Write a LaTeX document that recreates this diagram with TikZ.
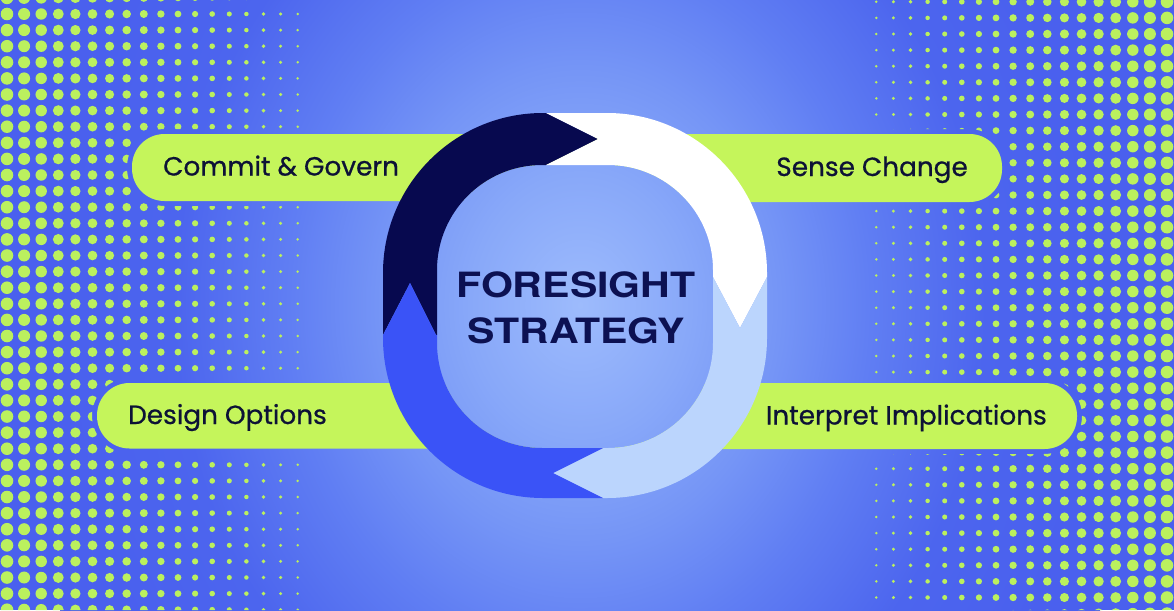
\documentclass[tikz,border=0pt]{standalone}
\usepackage{fontspec}
\setmainfont{Poppins}
\newfontfamily\pillfont[FakeBold=0.7]{Poppins}
\newfontfamily\titlefont[FakeStretch=1.18]{TeX Gyre Heros}
\usetikzlibrary{fit}

\definecolor{lime}{HTML}{C5F55B}
\definecolor{dotlime}{HTML}{BBF05E}
\definecolor{ringnavy}{HTML}{07094F}
\definecolor{ringblue}{HTML}{3A53F7}
\definecolor{ringpale}{HTML}{BBD5FD}
\definecolor{inktext}{HTML}{0D1236}
\definecolor{titleink}{HTML}{0C1152}
\definecolor{glowA}{HTML}{9DBBFC}
\definecolor{glowB}{HTML}{88A8F9}
\definecolor{glowC}{HTML}{7595F6}
\definecolor{glowD}{HTML}{607EF3}
\definecolor{glowE}{HTML}{4C65EE}
\definecolor{glowF}{HTML}{4A60EE}

% the path's box edge sits at 25bp
\pgfdeclareradialshading{bgglow}{\pgfpoint{0bp}{0bp}}{%
  color(0bp)=(glowA); color(5.3bp)=(glowB); color(9.6bp)=(glowC);
  color(14bp)=(glowD); color(19.5bp)=(glowE); color(25bp)=(glowF); color(50bp)=(glowF)}

% ring of the cycle, outer and inner rounded squares
\newcommand\ringfill[1]{\fill[#1,even odd rule,rounded corners=160] (383,113) rectangle (767,498)
  [rounded corners=105] (437,165) rectangle (713,448);}

\begin{document}
\begin{tikzpicture}[x=1pt,y=-1pt,
    pill/.style={fill=lime,rounded corners=32.5,inner sep=0pt},
    steplabel/.style={inner sep=0pt,text=inktext,font=\pillfont\fontsize{26.3}{30}\selectfont},
    titleline/.style={inner sep=0pt,text=titleink,font=\titlefont\bfseries\fontsize{34.8}{40}\selectfont}]
\useasboundingbox (0,0) rectangle (1174,610);

% background glow
\begin{scope}
  \clip (0,0) rectangle (1174,610);
  \fill[glowF] (0,0) rectangle (1174,610);
  \shade[shading=bgglow] (60,-315) rectangle (1100,925);
\end{scope}

% pill corners
\coordinate (cgA) at (132,134);  \coordinate (cgB) at (575,201);
\coordinate (scA) at (575,134);  \coordinate (scB) at (1002,202);
\coordinate (doA) at (97,383);   \coordinate (doB) at (575,448.5);
\coordinate (iiA) at (575,383);  \coordinate (iiB) at (1077,449);

% halftone dots, kept clear of the pills
\begin{scope}[even odd rule]
  \clip (0,0) rectangle (1174,610)
    [rounded corners=38]
    ([shift={(-5,-5)}]cgA) rectangle ([shift={(5,5)}]cgB)
    ([shift={(-5,-5)}]scA) rectangle ([shift={(5,5)}]scB)
    ([shift={(-5,-5)}]doA) rectangle ([shift={(5,5)}]doB)
    ([shift={(-5,-5)}]iiA) rectangle ([shift={(5,5)}]iiB);
  \foreach \i in {0,...,17}{
    \foreach \j in {0,...,38}{
      \fill[dotlime] ({7+17.1*\i},{-2.1+16.1*\j}) circle ({6.3-0.29*\i});
      \fill[dotlime] ({1167-17.1*\i},{1.8+16.1*\j}) circle ({6.3-0.29*\i});
    }
  }
\end{scope}

% pills
\node[pill,fit=(cgA)(cgB)] (cgpill) {};
\node[pill,fit=(scA)(scB)] (scpill) {};
\node[pill,fit=(doA)(doB)] (dopill) {};
\node[pill,fit=(iiA)(iiB)] (iipill) {};

\node[steplabel,anchor=base west] (commit) at (163,175.5) {Commit \& Govern};
\node[steplabel,anchor=base east] (sense) at (968,176) {Sense Change};
\node[steplabel,anchor=base west] (design) at (128,424) {Design Options};
\node[steplabel,anchor=base east] (interpret) at (1047,424.5) {Interpret Implications};

% inner area shows the glow again
\begin{scope}
  \clip[rounded corners=105] (437,165) rectangle (713,448);
  \shade[shading=bgglow] (60,-315) rectangle (1100,925);
\end{scope}

% four arrow segments of the ring
\begin{scope}
  \clip (575,305) -- (436,335) -- (410,283) -- (383,335) -- (340,335) -- (340,60)
    -- (546,60) -- (546,113) -- (598,139) -- (546,165) -- cycle;
  \ringfill{ringnavy}
\end{scope}
\begin{scope}
  \clip (575,305) -- (546,165) -- (598,139) -- (546,113) -- (546,60) -- (820,60)
    -- (820,277) -- (767,277) -- (740,328) -- (713,277) -- cycle;
  \ringfill{white}
\end{scope}
\begin{scope}
  \clip (575,305) -- (713,277) -- (740,328) -- (767,277) -- (820,277) -- (820,550)
    -- (603,550) -- (603,498) -- (553,473) -- (603,448) -- cycle;
  \ringfill{ringpale}
\end{scope}
\begin{scope}
  \clip (575,305) -- (603,448) -- (553,473) -- (603,498) -- (603,550) -- (340,550)
    -- (340,335) -- (383,335) -- (410,283) -- (436,335) -- cycle;
  \ringfill{ringblue}
\end{scope}

\node[titleline,anchor=base] (foresight) at (576,297) {FORESIGHT};
\node[titleline,anchor=base] (strategy) at (576,343) {STRATEGY};
\end{tikzpicture}
\end{document}
